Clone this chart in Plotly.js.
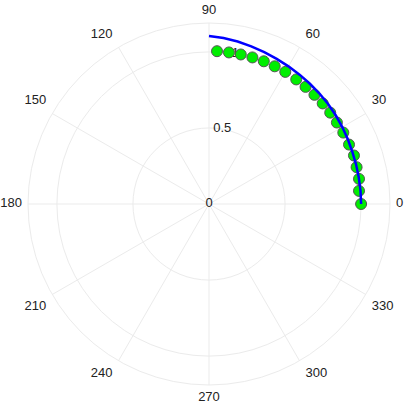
<!DOCTYPE html>
<html>
<head>
<meta charset="utf-8">
<script src="https://cdn.plot.ly/plotly-3.0.1.min.js"></script>
<style>html,body{margin:0;padding:0;background:#fff;}#chart{width:406px;height:406px;}</style>
</head>
<body>
<div id="chart"></div>
<script>
// Measured data (degrees, radius)
var markerTheta = [0, 5, 9.5, 14, 18.5, 23, 28, 32.5, 37, 41.5, 46, 50.5, 55, 60, 64.5, 69, 73.5, 78, 82.5, 87];
var markerR = [1.0, 0.99, 1.0, 1.0, 1.005, 1.0, 1.0, 0.997, 0.998, 0.998, 0.998, 0.998, 1.0, 1.003, 1.003, 1.005, 1.005, 1.005, 1.005, 1.006];
var lineTheta = [0, 5, 10, 15, 20, 25, 30, 35, 40, 45, 50, 55, 60, 65, 70, 75, 80, 85, 90];
var lineR = [1.0, 1.0, 1.0, 1.001, 1.003, 1.007, 1.012, 1.017, 1.022, 1.027, 1.032, 1.038, 1.045, 1.053, 1.062, 1.073, 1.085, 1.095, 1.105];
var radialTicks = [0, 0.5, 1];
var radialLabels = ['0', '0.5', '1'];
var angularTicks = [0, 30, 60, 90, 120, 150, 180, 210, 240, 270, 300, 330];
var angularLabels = ['0', '30', '60', '90', '120', '150', '180', '210', '240', '270', '300', '330'];

var radialMax = 1.19;
var radialLabelAngle = 80;
var font = {family: 'Liberation Sans, Arial, sans-serif', size: 13, color: '#222222'};

function sideOf(deg) {
  var c = Math.cos(deg * Math.PI / 180), s = Math.sin(deg * Math.PI / 180);
  var v = Math.abs(s) < 0.1 ? 'middle' : (s > 0 ? 'top' : 'bottom');
  var h = Math.abs(c) < 0.1 ? 'center' : (c > 0 ? 'right' : 'left');
  return v + ' ' + h;
}

var data = [
  {
    type: 'scatterpolar', mode: 'text',
    r: radialTicks, theta: radialTicks.map(function () { return radialLabelAngle; }),
    text: radialLabels, textposition: 'middle center', textfont: font,
    showlegend: false, hoverinfo: 'skip', cliponaxis: false
  },
  {
    type: 'scatterpolar', mode: 'markers+text',
    r: angularTicks.map(function () { return radialMax; }), theta: angularTicks,
    text: angularLabels, textposition: angularTicks.map(sideOf), textfont: font,
    marker: {size: 8, color: 'rgba(0,0,0,0)', line: {width: 0}},
    showlegend: false, hoverinfo: 'skip', cliponaxis: false
  },
  {
    type: 'scatterpolar', mode: 'markers',
    theta: markerTheta, r: markerR,
    marker: {color: '#00ee00', size: 11, line: {color: '#555555', width: 1}},
    showlegend: false
  },
  {
    type: 'scatterpolar', mode: 'lines',
    theta: lineTheta, r: lineR,
    line: {color: '#0000ff', width: 2.5},
    showlegend: false
  }
];
var grid = '#ebebeb';
var layout = {
  width: 406, height: 406,
  margin: {l: 28, r: 16, t: 23, b: 21},
  paper_bgcolor: '#ffffff',
  font: font,
  showlegend: false,
  polar: {
    bgcolor: '#ffffff',
    radialaxis: {
      range: [0, radialMax], tickmode: 'array', tickvals: radialTicks, ticktext: radialLabels,
      showticklabels: false, showline: false, ticks: '', gridcolor: grid,
      layer: 'below traces'
    },
    angularaxis: {
      rotation: 0, direction: 'counterclockwise',
      tickmode: 'array', tickvals: angularTicks, ticktext: angularLabels,
      showticklabels: false,
      ticks: '', showline: true, linecolor: grid, gridcolor: grid,
      layer: 'below traces'
    }
  }
};
Plotly.newPlot('chart', data, layout, {displayModeBar: false, staticPlot: true});
</script>
</body>
</html>
